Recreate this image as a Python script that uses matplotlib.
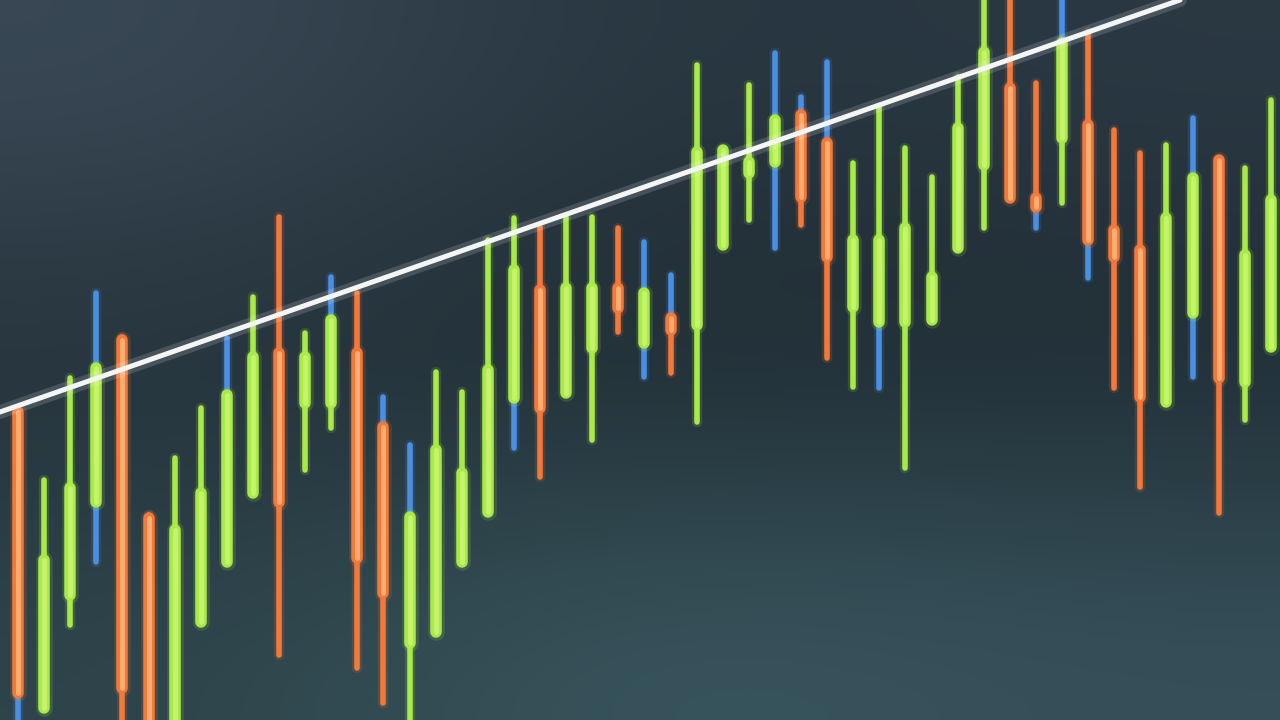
"""Candlestick close-up on a dark screen, with a white trend line"""

import numpy as np
import matplotlib
matplotlib.use('Agg')
from matplotlib import pyplot as plt
from matplotlib.colors import to_rgb

# price levels (0 = bottom edge, 72 = top edge)
highs = [30.8, 24.0, 34.2, 42.7, 38.3, 20.5, 26.2, 31.2, 38.2, 42.3,
         50.3, 38.7, 44.3, 42.7, 32.3, 27.5, 34.8, 32.8, 48.0, 50.2,
         49.3, 50.3, 50.3, 49.2, 47.8, 44.5, 65.5, 57.0, 63.5, 66.7,
         62.3, 65.8, 55.7, 61.3, 57.2, 54.3, 64.3, 73.0, 73.0, 63.7,
         73.0, 68.8, 59.0, 56.7, 57.5, 60.2, 56.0, 55.2, 62.0]
body_top = [30.8, 16.0, 23.2, 35.2, 38.0, 20.2, 19.0, 22.7, 32.5, 36.3,
            36.7, 36.3, 40.0, 36.7, 29.3, 20.3, 27.0, 24.7, 35.0, 45.0,
            43.0, 43.2, 43.2, 43.2, 42.7, 40.2, 56.8, 57.0, 55.8, 60.0,
            60.5, 57.7, 48.0, 48.0, 49.2, 44.3, 59.2, 66.8, 63.2, 52.2,
            67.7, 59.5, 49.0, 47.0, 50.2, 54.2, 56.0, 46.5, 52.0]
body_bot = [2.7, 1.2, 12.5, 21.8, 3.2, -1.0, -1.0, 9.8, 15.8, 22.7,
            21.8, 31.7, 31.7, 16.2, 12.7, 7.7, 8.8, 15.8, 20.8, 32.2,
            31.2, 32.7, 37.2, 41.2, 37.7, 39.0, 39.5, 47.5, 54.7, 55.8,
            52.3, 46.3, 41.3, 39.8, 39.8, 40.0, 47.2, 55.5, 52.2, 51.3,
            58.2, 48.0, 46.3, 32.3, 31.8, 40.7, 34.2, 33.8, 37.3]
lows = [-1.0, 1.2, 9.5, 15.8, -1.0, -1.0, -1.0, 9.8, 15.8, 22.7,
        6.5, 25.0, 29.2, 5.2, 1.7, -1.0, 8.8, 15.8, 20.8, 27.2,
        24.3, 32.7, 28.0, 38.8, 34.3, 34.7, 29.8, 47.5, 50.0, 47.2,
        49.5, 36.2, 33.3, 33.2, 25.2, 40.0, 47.2, 49.2, 52.2, 49.2,
        51.7, 44.2, 33.2, 23.3, 31.8, 34.3, 20.7, 30.0, 37.3]
# 1 = rising (green), 0 = falling (orange)
rising = [0, 1, 1, 1, 0, 0, 1, 1, 1, 1,
          0, 1, 1, 0, 0, 1, 1, 1, 1, 1,
          0, 1, 1, 0, 1, 0, 1, 1, 1, 1,
          0, 0, 1, 1, 1, 1, 1, 1, 0, 0,
          1, 0, 0, 0, 1, 1, 0, 1, 1]
# wicks drawn in blue on some candles
upper_blue = [0, 0, 0, 1, 0, 0, 0, 0, 1, 0,
              0, 0, 1, 0, 1, 1, 0, 0, 0, 0,
              0, 0, 0, 0, 1, 1, 0, 0, 0, 1,
              1, 1, 0, 0, 0, 0, 0, 0, 0, 0,
              1, 0, 0, 0, 0, 1, 0, 0, 0]
lower_blue = [1, 0, 0, 1, 0, 0, 0, 0, 0, 0,
              0, 0, 0, 0, 0, 0, 0, 0, 0, 1,
              0, 0, 0, 0, 1, 0, 0, 0, 0, 1,
              0, 0, 0, 1, 0, 0, 0, 0, 0, 1,
              0, 1, 0, 0, 0, 1, 0, 0, 0]

# trend line, two anchor points (candle index, price)
trend_x = [-0.69, 44.52]
trend_y = [30.8, 72.0]

GREEN = '#a8ea48'
GREEN_CORE = '#d4f77c'
ORANGE = '#f4783a'
ORANGE_CORE = '#ffc58a'
BLUE = '#4b8fe2'

fig = plt.figure(figsize=(12.8, 7.2), dpi=100)
ax = fig.add_axes([0, 0, 1, 1])
ax.set_xlim(-0.69, 48.35)
ax.set_ylim(0, 72)
ax.axis('off')

# screen background, a soft gradient
bg = np.array([[to_rgb('#3a4956'), to_rgb('#27353f'), to_rgb('#2b3944')],
               [to_rgb('#233038'), to_rgb('#1d292f'), to_rgb('#1e2a31')],
               [to_rgb('#2e444a'), to_rgb('#3a5860'), to_rgb('#36505a')]])
ax.imshow(bg, extent=[-0.69, 48.35, 0, 72], aspect='auto',
          interpolation='bicubic', zorder=0)

idx = np.arange(len(highs))
for i in idx:
    body_col = GREEN if rising[i] else ORANGE
    core_col = GREEN_CORE if rising[i] else ORANGE_CORE
    up_col = BLUE if upper_blue[i] else body_col
    lo_col = BLUE if lower_blue[i] else body_col

    # wicks (glow + line)
    for y0, y1, c in [(body_top[i], highs[i], up_col),
                      (lows[i], body_bot[i], lo_col)]:
        if y1 - y0 > 0.05:
            ax.vlines(i, y0, y1, color=c, linewidth=7.5, alpha=0.16,
                      capstyle='round', zorder=2)
            ax.vlines(i, y0, y1, color=c, linewidth=4,
                      capstyle='round', zorder=3)

    # body (glow, body, lighter centre stripe)
    ax.vlines(i, body_bot[i], body_top[i], color=body_col, linewidth=12,
              alpha=0.16, capstyle='round', zorder=4)
    ax.vlines(i, body_bot[i], body_top[i], color=body_col, linewidth=8.3,
              capstyle='round', zorder=5)
    ax.vlines(i, body_bot[i], body_top[i], color=core_col, linewidth=3.5,
              alpha=0.7, capstyle='round', zorder=6)

# white trend line with a faint halo
ax.plot(trend_x, trend_y, color='white', linewidth=10, alpha=0.15,
        solid_capstyle='round', zorder=7)
ax.plot(trend_x, trend_y, color='#f4f6f6', linewidth=3.6,
        solid_capstyle='round', zorder=8)

fig.savefig('out.png', dpi=100)
